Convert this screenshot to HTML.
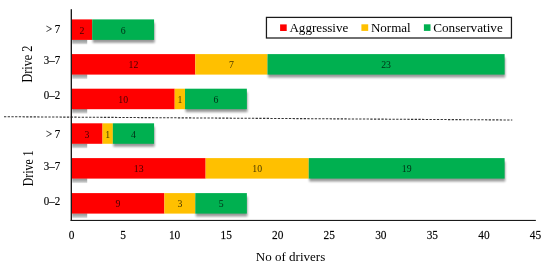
<!DOCTYPE html>
<html lang="en"><head><meta charset="utf-8"><title>Drivers chart</title>
<style>html,body{margin:0;padding:0;background:#fff}svg{display:block}text{font-family:"Liberation Serif","DejaVu Serif",serif;fill:#000}.k{stroke:#000;stroke-width:.25px;stroke-opacity:.6}</style></head><body>
<svg width="550" height="267" viewBox="0 0 550 267">
<defs><filter id="sh" x="-5%" y="-30%" width="110%" height="180%"><feGaussianBlur stdDeviation="1"/></filter>
<linearGradient id="gb" x1="0" y1="0" x2="0" y2="1"><stop offset="0" stop-color="#8e9494"/><stop offset="0.6" stop-color="#b4b6b6"/><stop offset="1" stop-color="#e8e8e8"/></linearGradient></defs>
<rect width="550" height="267" fill="#fff"/>
<rect x="92.72" y="22.90" width="61.96" height="19.90" fill="#000" opacity="0.4" filter="url(#sh)"/>
<rect x="72.3" y="39.60" width="14.9" height="4.8" fill="url(#gb)"/>
<rect x="267.99" y="57.60" width="237.23" height="19.90" fill="#000" opacity="0.4" filter="url(#sh)"/>
<rect x="72.3" y="74.30" width="14.9" height="4.8" fill="url(#gb)"/>
<rect x="185.51" y="92.20" width="61.96" height="19.90" fill="#000" opacity="0.4" filter="url(#sh)"/>
<rect x="72.3" y="108.90" width="14.9" height="4.8" fill="url(#gb)"/>
<rect x="113.34" y="126.80" width="41.34" height="19.90" fill="#000" opacity="0.4" filter="url(#sh)"/>
<rect x="72.3" y="143.50" width="14.9" height="4.8" fill="url(#gb)"/>
<rect x="309.23" y="161.60" width="195.99" height="19.90" fill="#000" opacity="0.4" filter="url(#sh)"/>
<rect x="72.3" y="178.30" width="14.9" height="4.8" fill="url(#gb)"/>
<rect x="195.82" y="196.60" width="51.65" height="19.90" fill="#000" opacity="0.4" filter="url(#sh)"/>
<rect x="72.3" y="213.30" width="14.9" height="4.8" fill="url(#gb)"/>
<rect x="71.60" y="19.40" width="20.62" height="20.5" fill="#ff0000"/>
<rect x="92.22" y="19.40" width="61.86" height="20.5" fill="#00b050"/>
<rect x="71.60" y="54.10" width="123.72" height="20.5" fill="#ff0000"/>
<rect x="195.32" y="54.10" width="72.17" height="20.5" fill="#ffc000"/>
<rect x="267.49" y="54.10" width="237.13" height="20.5" fill="#00b050"/>
<rect x="71.60" y="88.70" width="103.10" height="20.5" fill="#ff0000"/>
<rect x="174.70" y="88.70" width="10.31" height="20.5" fill="#ffc000"/>
<rect x="185.01" y="88.70" width="61.86" height="20.5" fill="#00b050"/>
<rect x="71.60" y="123.30" width="30.93" height="20.5" fill="#ff0000"/>
<rect x="102.53" y="123.30" width="10.31" height="20.5" fill="#ffc000"/>
<rect x="112.84" y="123.30" width="41.24" height="20.5" fill="#00b050"/>
<rect x="71.60" y="158.10" width="134.03" height="20.5" fill="#ff0000"/>
<rect x="205.63" y="158.10" width="103.10" height="20.5" fill="#ffc000"/>
<rect x="308.73" y="158.10" width="195.89" height="20.5" fill="#00b050"/>
<rect x="71.60" y="193.10" width="92.79" height="20.5" fill="#ff0000"/>
<rect x="164.39" y="193.10" width="30.93" height="20.5" fill="#ffc000"/>
<rect x="195.32" y="193.10" width="51.55" height="20.5" fill="#00b050"/>
<text transform="translate(81.91,33.65) scale(0.9,1)" font-size="10.9" text-anchor="middle" fill="#443434" fill-opacity="0.74">2</text>
<text transform="translate(123.15,33.65) scale(0.9,1)" font-size="10.9" text-anchor="middle" fill="#3c4444" fill-opacity="0.74">6</text>
<text transform="translate(133.46,68.35) scale(0.9,1)" font-size="10.9" text-anchor="middle" fill="#443434" fill-opacity="0.74">12</text>
<text transform="translate(231.41,68.35) scale(0.9,1)" font-size="10.9" text-anchor="middle" fill="#403c34" fill-opacity="0.74">7</text>
<text transform="translate(386.06,68.35) scale(0.9,1)" font-size="10.9" text-anchor="middle" fill="#3c4444" fill-opacity="0.74">23</text>
<text transform="translate(123.15,102.95) scale(0.9,1)" font-size="10.9" text-anchor="middle" fill="#443434" fill-opacity="0.74">10</text>
<text transform="translate(179.85,102.95) scale(0.9,1)" font-size="10.9" text-anchor="middle" fill="#403c34" fill-opacity="0.74">1</text>
<text transform="translate(215.94,102.95) scale(0.9,1)" font-size="10.9" text-anchor="middle" fill="#3c4444" fill-opacity="0.74">6</text>
<text transform="translate(87.06,137.55) scale(0.9,1)" font-size="10.9" text-anchor="middle" fill="#443434" fill-opacity="0.74">3</text>
<text transform="translate(107.69,137.55) scale(0.9,1)" font-size="10.9" text-anchor="middle" fill="#403c34" fill-opacity="0.74">1</text>
<text transform="translate(133.46,137.55) scale(0.9,1)" font-size="10.9" text-anchor="middle" fill="#3c4444" fill-opacity="0.74">4</text>
<text transform="translate(138.62,172.35) scale(0.9,1)" font-size="10.9" text-anchor="middle" fill="#443434" fill-opacity="0.74">13</text>
<text transform="translate(257.18,172.35) scale(0.9,1)" font-size="10.9" text-anchor="middle" fill="#403c34" fill-opacity="0.74">10</text>
<text transform="translate(406.68,172.35) scale(0.9,1)" font-size="10.9" text-anchor="middle" fill="#3c4444" fill-opacity="0.74">19</text>
<text transform="translate(118.00,207.35) scale(0.9,1)" font-size="10.9" text-anchor="middle" fill="#443434" fill-opacity="0.74">9</text>
<text transform="translate(179.85,207.35) scale(0.9,1)" font-size="10.9" text-anchor="middle" fill="#403c34" fill-opacity="0.74">3</text>
<text transform="translate(221.09,207.35) scale(0.9,1)" font-size="10.9" text-anchor="middle" fill="#3c4444" fill-opacity="0.74">5</text>
<line x1="4" y1="116.7" x2="512.3" y2="120" stroke="#333" stroke-width="1.1" stroke-dasharray="2.3 1.4"/>
<rect x="70.65" y="9.2" width="1.35" height="211.8" fill="#1a1a1a"/>
<rect x="70.65" y="219.9" width="465.2" height="1.1" fill="#1a1a1a"/>
<text transform="translate(71.50,239.35) scale(0.875,1)" font-size="13" text-anchor="middle" class="k">0</text>
<text transform="translate(123.05,239.35) scale(0.875,1)" font-size="13" text-anchor="middle" class="k">5</text>
<text transform="translate(174.60,239.35) scale(0.875,1)" font-size="13" text-anchor="middle" class="k">10</text>
<text transform="translate(226.15,239.35) scale(0.875,1)" font-size="13" text-anchor="middle" class="k">15</text>
<text transform="translate(277.70,239.35) scale(0.875,1)" font-size="13" text-anchor="middle" class="k">20</text>
<text transform="translate(329.25,239.35) scale(0.875,1)" font-size="13" text-anchor="middle" class="k">25</text>
<text transform="translate(380.80,239.35) scale(0.875,1)" font-size="13" text-anchor="middle" class="k">30</text>
<text transform="translate(432.35,239.35) scale(0.875,1)" font-size="13" text-anchor="middle" class="k">35</text>
<text transform="translate(483.90,239.35) scale(0.875,1)" font-size="13" text-anchor="middle" class="k">40</text>
<text transform="translate(535.45,239.35) scale(0.875,1)" font-size="13" text-anchor="middle" class="k">45</text>
<text transform="translate(60.3,33.30) scale(0.9,1)" font-size="12.2" text-anchor="end" class="k">&gt; 7</text>
<text transform="translate(60.3,64.20) scale(0.9,1)" font-size="12.2" text-anchor="end" class="k">3–7</text>
<text transform="translate(60.3,99.40) scale(0.9,1)" font-size="12.2" text-anchor="end" class="k">0–2</text>
<text transform="translate(60.3,137.80) scale(0.9,1)" font-size="12.2" text-anchor="end" class="k">&gt; 7</text>
<text transform="translate(60.3,169.70) scale(0.9,1)" font-size="12.2" text-anchor="end" class="k">3–7</text>
<text transform="translate(60.3,204.60) scale(0.9,1)" font-size="12.2" text-anchor="end" class="k">0–2</text>
<text x="290.5" y="260.7" font-size="13" text-anchor="middle" textLength="69.5" lengthAdjust="spacingAndGlyphs">No of drivers</text>
<text transform="translate(32.2,64.1) rotate(-90) scale(1,1.26)" font-size="12.15" text-anchor="middle">Drive 2</text>
<text transform="translate(33,168.3) rotate(-90) scale(0.975,1.26)" font-size="12.15" text-anchor="middle">Drive 1</text>
<rect x="266.45" y="17.4" width="245" height="20.6" fill="#fff" stroke="#1a1a1a" stroke-width="1.25"/>
<rect x="280.1" y="24.4" width="6.6" height="6.6" fill="#ff0000"/>
<rect x="361.4" y="24.3" width="6.8" height="6.6" fill="#ffc000"/>
<rect x="423.9" y="24.3" width="6.6" height="6.6" fill="#00b050"/>
<text x="289.4" y="31.6" font-size="13.4" textLength="59" lengthAdjust="spacingAndGlyphs">Aggressive</text>
<text x="370.9" y="31.9" font-size="13.4" textLength="39.8" lengthAdjust="spacingAndGlyphs">Normal</text>
<text x="433.2" y="31.7" font-size="13.4" textLength="69.6" lengthAdjust="spacingAndGlyphs">Conservative</text>
</svg></body></html>
